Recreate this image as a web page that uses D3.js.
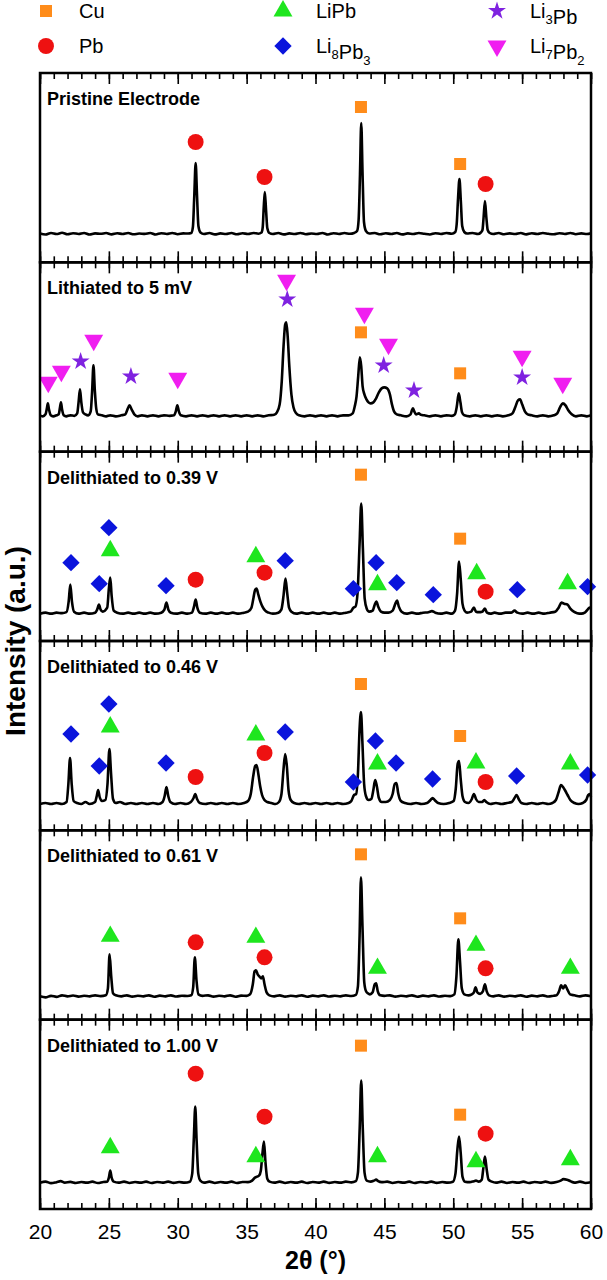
<!DOCTYPE html>
<html>
<head>
<meta charset="utf-8">
<title>XRD patterns</title>
<script src="https://cdn.jsdelivr.net/npm/d3@7"></script>
<style>
  body { margin: 0; background: #fff; }
  svg { display: block; font-family: Arial, "Liberation Sans", sans-serif; }
</style>
</head>
<body>
<svg id="chart" width="607" height="1280"></svg>
<script>
// 2theta tick values
var majorTicks = [20, 25, 30, 35, 40, 45, 50, 55, 60]
var minorTicks = d3.range(20, 61, 1)

var panelNames = ['Pristine Electrode', 'Lithiated to 5 mV', 'Delithiated to 0.39 V',
  'Delithiated to 0.46 V', 'Delithiated to 0.61 V', 'Delithiated to 1.00 V']

var phases = ['Cu', 'Pb', 'LiPb', 'Li8Pb3', 'Li3Pb', 'Li7Pb2']
var phaseColors = ['#ff8c1a', '#ee1111', '#1ee61e', '#0a14dc', '#7f22e0', '#f01ef0']

// traces: [2theta, intensity above baseline]
var pristine = [
  [20,0.5],[20.4,-0.5],[20.8,1],[21.2,0],[21.6,1.2],[22,-0.3],[22.4,0.8],[22.8,0],[23.2,1],[23.6,-0.5],[24,0.6],[24.4,0.2],[24.8,1],[25.2,-0.4],[25.6,0.7],[26,0],[26.4,1],[26.8,-0.3],[27.2,0.5],[27.6,0.1],[28,1],[28.4,-0.5],[28.8,0.8],[29.2,0],[29.6,1],[30,-0.2],[30.4,0.6],[30.75,0.5],
  [30.98,1],[31.1,7],[31.2,38],[31.3,71],[31.4,38],[31.5,8],[31.65,1.5],
  [31.9,0],[32.3,1],[32.7,-0.4],[33.1,0.6],[33.5,0],[33.9,1],[34.3,-0.3],[34.7,0.7],[35.1,0],[35.5,1],[35.85,0.3],
  [36.08,1.5],[36.17,7],[36.24,26],[36.32,42],[36.41,24],[36.5,6],[36.65,1],
  [36.9,0],[37.3,1],[37.7,-0.4],[38.1,0.6],[38.5,0],[38.9,1],[39.3,-0.2],[39.7,0.5],[40.1,0],[40.5,1],[40.9,-0.5],[41.3,0.8],[41.7,0],[42.1,1],[42.5,0.2],[42.8,1],
  [43.02,3],[43.13,14],[43.23,60],[43.32,111],[43.42,58],[43.52,12],[43.66,3],
  [43.9,0.5],[44.3,1],[44.7,-0.3],[45.1,0.7],[45.5,0],[45.9,1],[46.3,-0.4],[46.7,0.6],[47.1,0],[47.5,1],[47.9,0.2],[48.3,-0.5],[48.7,0.8],[49.1,0],[49.5,1],[49.9,0.3],
  [50.15,2],[50.25,10],[50.35,36],[50.45,55],[50.55,33],[50.65,8],[50.8,2],
  [51.0,0.5],[51.4,1],[51.8,0],[52.0,1.5],
  [52.12,4],[52.2,16],[52.3,33],[52.4,17],[52.5,4],[52.65,1],
  [52.9,0],[53.3,1],[53.7,-0.3],[54.1,0.6],[54.5,0],[54.9,1],[55.3,-0.4],[55.7,0.7],[56.1,0],[56.5,1],[56.9,0.2],[57.3,-0.3],[57.7,0.8],[58.1,0],[58.5,1],[58.9,-0.2],[59.3,0.6],[59.7,0],[60,0.8]
]

var lith5mV = [
  [20.0,1],[20.2,0],[20.4,2],[20.5,8],[20.57,13],[20.65,7],[20.78,1],[20.95,0],[21.2,1],[21.36,2],[21.44,8],[21.52,14],[21.6,7],[21.72,1],[21.9,0],[22.2,1],[22.5,0.5],
  [22.7,3],[22.8,14],[22.9,27],[23.0,14],[23.12,4],[23.3,2],[23.5,1],[23.68,5],[23.78,24],[23.88,51],[23.98,26],[24.08,8],[24.2,2],[24.5,1],[24.8,0],[25.1,1],[25.5,0],[25.9,1],
  [26.2,2],[26.35,7],[26.5,11],[26.65,7],[26.85,2],[27.1,0],[27.4,1],[27.8,0],[28.2,1],[28.6,0],[29.0,1],[29.4,0.5],[29.72,1],[29.86,5],[29.97,11],[30.08,5],[30.22,1],
  [30.6,0],[31,1],[31.4,0],[31.8,1],[32.2,0],[32.6,1],[33,0],[33.4,1],[33.8,0],[34.2,1],[34.6,0],[35,1],[35.4,0],[35.8,1],[36.2,0],[36.6,1],
  [37.0,1.5],[37.2,4],[37.4,12],[37.55,35],[37.68,70],[37.8,92],[37.88,94],[37.98,80],[38.1,50],[38.25,22],[38.4,9],[38.6,3],[38.8,1],
  [39.2,0],[39.6,1],[40,0],[40.4,1],[40.8,0],[41.2,1],[41.6,0],[42,1],[42.4,1],
  [42.7,3],[42.85,10],[42.98,20],[43.1,40],[43.22,59],[43.32,50],[43.42,30],[43.55,22],[43.7,17],[43.85,14],[44.0,13],[44.2,14],[44.4,18],[44.6,24],[44.8,28],[45.0,29],[45.2,28],[45.4,22],[45.55,12],[45.7,5],[45.9,2],
  [46.2,1],[46.6,0],[46.9,2],[47.0,6],[47.08,8],[47.17,5],[47.3,2],[47.5,3],[47.65,1.5],[47.9,1],[48.3,0],[48.7,1],[49.1,0],[49.5,1],[49.9,0.5],
  [50.12,2],[50.26,10],[50.4,23],[50.52,14],[50.64,4],[50.8,1],[51.2,0],[51.6,1],[52,0],[52.4,1],[52.8,0],[53.2,1],[53.6,0],[54,1],
  [54.3,3],[54.5,9],[54.7,16],[54.85,17],[55.0,12],[55.2,5],[55.4,2],[55.7,1],[56.1,0],[56.5,1],[56.9,0],[57.3,1],
  [57.55,3],[57.75,9],[57.95,13],[58.15,11],[58.35,6],[58.6,2],[58.9,0],[59.3,1],[59.7,0],[60,1]
]

var delith039 = [
  [20,0],[20.4,1],[20.8,0],[21.2,1],[21.6,0.5],[21.92,1.5],[22.08,12],[22.2,29],[22.32,12],[22.47,2],[22.8,0],[23.2,1],[23.6,0],[24.0,1],
  [24.15,4],[24.28,9],[24.4,4],[24.55,2],[24.88,6],[25.0,25],[25.1,36],[25.2,18],[25.35,3],[25.6,1],[26,0],[26.4,1],[26.8,0],[27.2,1],[27.6,0],[28,1],[28.4,0],[28.8,1],
  [29.03,4],[29.18,11],[29.32,4],[29.5,1],[29.9,0],[30.3,1],[30.7,0],[31.03,1],[31.18,7],[31.3,14],[31.42,6],[31.6,1],
  [32,0],[32.4,1],[32.8,0],[33.2,1],[33.6,0],[34,1],[34.4,0],[34.8,1],
  [35.1,2],[35.35,6],[35.5,16],[35.62,24],[35.72,25],[35.85,19],[36.0,12],[36.15,7],[36.35,3],[36.6,1],[36.9,0],[37.3,1],
  [37.52,4],[37.68,18],[37.82,35],[37.95,20],[38.08,6],[38.25,2],[38.6,0],[39,1],[39.4,0],[39.8,1],[40.2,0],[40.6,1],[41,0],[41.4,1],[41.8,0],[42.2,1],
  [42.55,2],[42.75,6],[42.9,7],[43.05,20],[43.2,70],[43.32,110],[43.44,65],[43.57,15],[43.72,5],[43.9,2],
  [44.15,3],[44.3,9],[44.42,12],[44.55,7],[44.75,2],[45.0,1],[45.3,1],[45.6,3],[45.8,10],[45.92,13],[46.05,7],[46.25,2],
  [46.6,0],[47,1],[47.4,0],[47.8,1],[48.2,1.5],[48.45,2.5],[48.7,1],[49.1,0],[49.5,1],[49.9,0],
  [50.13,3],[50.28,20],[50.42,52],[50.54,35],[50.67,10],[50.82,3],[51.0,1],[51.3,2],[51.5,6],[51.65,2],[51.85,1.5],[52.1,2],[52.3,5],[52.45,1],
  [52.7,0],[53,1],[53.4,0],[53.8,1],[54.2,1],[54.45,3],[54.65,1],[55,0],[55.4,1],[55.8,0],[56.2,1],[56.6,0],[57.0,1],
  [57.4,2],[57.65,6],[57.85,11],[58.05,10],[58.3,9],[58.5,5],[58.75,2],[59.0,0.5],[59.3,0],[59.55,1],[59.75,4],[59.9,6],[60,5]
]

var delith046 = [
  [20,0],[20.4,1],[20.8,0],[21.2,1],[21.6,0],[21.93,2],[22.06,20],[22.18,46],[22.3,20],[22.44,3],[22.7,1],[23.0,0],[23.3,2],[23.6,0],[24.0,2],
  [24.12,8],[24.22,14],[24.33,7],[24.5,3],[24.75,4],[24.9,20],[25.04,55],[25.16,30],[25.3,5],[25.5,1],[25.8,2],[26.2,0],[26.6,1],[27,0],[27.4,1],[27.8,0],[28.2,1],[28.6,0],
  [28.9,2],[29.05,8],[29.18,17],[29.31,8],[29.46,2],[29.8,0],[30.2,1],[30.6,0],[30.95,2],[31.15,6],[31.27,10],[31.4,5],[31.6,1],
  [32,0],[32.4,1],[32.8,0],[33.2,1],[33.6,0],[34,1],[34.4,0],[34.8,1],
  [35.1,3],[35.3,10],[35.48,28],[35.62,38],[35.72,39],[35.85,30],[35.98,18],[36.12,9],[36.3,4],[36.5,2],[36.8,1],[37.1,0],
  [37.35,2],[37.53,10],[37.68,35],[37.8,50],[37.92,38],[38.04,14],[38.2,4],[38.45,1],[38.8,0],[39.2,1],[39.6,0],[40,1],[40.4,0],[40.8,1],[41.2,0],[41.6,1],[42,0],[42.4,1],
  [42.6,3],[42.8,9],[42.95,10],[43.08,30],[43.2,75],[43.3,92],[43.41,60],[43.53,20],[43.66,8],[43.85,4],
  [44.05,5],[44.2,14],[44.33,24],[44.45,18],[44.6,6],[44.8,2],[45.1,2],[45.4,4],[45.6,10],[45.75,20],[45.88,21],[46.0,11],[46.2,3],
  [46.5,1],[46.9,0],[47.3,1],[47.7,0],[48.1,1],[48.35,4],[48.5,6],[48.65,4],[48.9,1],[49.3,0],[49.7,1],
  [50.03,3],[50.18,15],[50.32,40],[50.42,43],[50.54,25],[50.67,8],[50.85,2],[51.1,1],[51.35,5],[51.5,10],[51.65,5],[51.85,2],[52.1,2],[52.25,4],[52.4,2],
  [52.7,0],[53.1,1],[53.5,0],[53.9,1],[54.25,2],[54.45,6],[54.6,9],[54.75,5],[54.95,1],[55.3,0],[55.7,1],[56.1,0],[56.5,1],[56.9,0],[57.2,1],
  [57.45,4],[57.65,12],[57.82,19],[57.97,17],[58.1,14],[58.3,9],[58.5,4],[58.8,1],[59.1,0],[59.4,1],[59.65,4],[59.8,9],[59.9,10],[60,7]
]

var delith061 = [
  [20,0],[20.4,-1],[20.8,0.5],[21.2,-0.5],[21.6,1],[22,0],[22.4,0.8],[22.8,-0.3],[23.2,0.6],[23.6,0],[24,1],[24.4,0.2],[24.78,1],
  [24.93,8],[25.05,42],[25.17,20],[25.3,3],
  [25.5,1],[25.9,0],[26.3,1],[26.7,-0.3],[27.1,0.6],[27.5,0],[27.9,1],[28.3,-0.4],[28.7,0.7],[29.1,0],[29.5,1],[29.9,-0.2],[30.3,0.6],[30.7,0.3],[30.98,1],
  [31.12,9],[31.24,39],[31.36,16],[31.5,2],
  [31.8,0.5],[32.2,1],[32.6,-0.3],[33,0.6],[33.4,0],[33.8,1],[34.2,-0.4],[34.6,0.7],[35.0,0.5],[35.25,2],
  [35.45,12],[35.58,25],[35.68,26],[35.8,22],[35.92,20],[36.05,18],[36.18,20],[36.3,12],[36.45,4],[36.65,1],
  [37.0,0],[37.4,1],[37.8,-0.3],[38.2,0.6],[38.6,0],[39,1],[39.4,-0.4],[39.8,0.7],[40.2,0],[40.6,1],[41,-0.2],[41.4,0.6],[41.8,0],[42.2,1],[42.6,0.3],[42.93,1.5],
  [43.08,10],[43.2,60],[43.3,119],[43.41,70],[43.54,14],[43.67,5],
  [43.8,3],[43.95,2],[44.15,4],[44.3,12],[44.4,13],[44.52,5],[44.7,1],
  [45.0,0.5],[45.4,1],[45.8,-0.3],[46.2,0.6],[46.6,0],[47,1],[47.4,-0.4],[47.8,0.7],[48.2,0],[48.6,1],[49,-0.2],[49.4,0.6],[49.8,0.2],[50.08,2],
  [50.23,20],[50.37,57],[50.49,35],[50.62,8],[50.8,2],
  [51.1,1],[51.35,2],[51.5,4],[51.62,9],[51.75,4],[51.95,2.5],[52.15,5],[52.3,12],[52.43,5],[52.6,1],
  [52.9,0],[53.3,1],[53.7,-0.3],[54.1,0.6],[54.5,0],[54.9,1],[55.3,-0.4],[55.7,0.7],[56.1,0],[56.5,1],[56.9,-0.2],[57.3,0.6],[57.5,1],
  [57.68,5],[57.83,11],[57.97,8],[58.12,11],[58.28,7],[58.48,2],
  [58.8,1],[59.2,0],[59.6,1],[60,0]
]

var delith100 = [
  [20,0],[20.4,1],[20.8,-0.5],[21.2,0.5],[21.5,1.5],[21.8,0],[22.2,0.8],[22.6,-0.3],[23,0.6],[23.4,0],[23.8,1],[24.2,-0.4],[24.6,0.7],[24.88,1],
  [25.0,5],[25.1,12],[25.2,5],[25.35,1],
  [25.7,0],[26.1,1],[26.5,-0.3],[26.9,0.6],[27.3,0],[27.7,1],[28.1,-0.4],[28.5,0.7],[28.9,0],[29.3,1],[29.7,-0.2],[30.1,0.6],[30.5,0],[30.88,1],
  [31.05,9],[31.17,45],[31.27,76],[31.37,42],[31.49,9],[31.64,2],
  [31.9,0],[32.3,1],[32.7,-0.3],[33.1,0.6],[33.5,0],[33.9,1],[34.3,-0.4],[34.7,0.7],[35.1,0.5],[35.4,2],[35.6,5],[35.75,6],[35.9,7],[36.03,12],
  [36.14,28],[36.26,41],[36.37,20],[36.5,4],[36.67,1],
  [37,0],[37.4,1],[37.8,-0.3],[38.2,0.6],[38.6,0],[39,1],[39.4,-0.4],[39.8,0.7],[40.2,0],[40.6,1],[41,-0.2],[41.4,0.6],[41.8,0],[42.2,1],[42.6,0.3],[42.93,1.5],
  [43.08,10],[43.21,55],[43.32,102],[43.43,55],[43.56,10],[43.72,2],
  [44.0,1],[44.25,2],[44.4,3],[44.55,1.5],[44.8,0.5],[45.2,1],[45.6,-0.3],[46,0.6],[46.4,0],[46.8,1],[47.2,-0.4],[47.6,0.7],[48,0],[48.4,1],[48.8,-0.2],[49.2,0.6],[49.6,0],[49.98,1],
  [50.16,9],[50.3,33],[50.42,46],[50.54,30],[50.67,6],[50.85,1],
  [51.2,0.5],[51.5,1.5],[51.65,2],[51.85,1],[52.07,3],
  [52.18,14],[52.3,26],[52.42,14],[52.56,3],[52.8,1],
  [53.1,0],[53.5,1],[53.9,-0.3],[54.3,0.6],[54.7,0],[55.1,1],[55.5,-0.4],[55.9,0.7],[56.3,0],[56.7,1],[57.1,-0.2],[57.5,0.6],[57.8,2],[58.0,3.5],[58.25,3],[58.5,1.5],[58.8,0],[59.2,1],[59.6,-0.3],[60,0.5]
]

// phase markers: [phase, 2theta, height]
var pristineMarks = [['Pb',31.3,92],['Pb',36.3,57],['Cu',43.3,127],['Cu',50.5,70],['Pb',52.35,50]]
var lith5mVMarks = [
  ['Li7Pb2',20.6,34],['Li7Pb2',21.55,45],['Li3Pb',22.95,55],['Li7Pb2',23.9,76],['Li3Pb',26.6,40],['Li7Pb2',30.0,38],
  ['Li7Pb2',37.9,136],['Li3Pb',37.95,117],['Li7Pb2',43.55,103],['Cu',43.3,84],['Li7Pb2',45.3,72],['Li3Pb',44.95,51],
  ['Li3Pb',47.15,26],['Cu',50.5,43],['Li7Pb2',55.0,60],['Li3Pb',55.0,39],['Li7Pb2',57.95,33]
]
var delith039Marks = [
  ['Li8Pb3',22.25,51],['Li8Pb3',24.3,30],['Li8Pb3',25.0,86],['LiPb',25.1,63],['Li8Pb3',29.15,28],['Pb',31.3,34],
  ['LiPb',35.67,57],['Pb',36.3,41],['Li8Pb3',37.8,53],['Cu',43.3,139],['Li8Pb3',42.75,25],['Li8Pb3',44.4,51],
  ['LiPb',44.5,29],['Li8Pb3',45.9,31],['Li8Pb3',48.55,19],['Cu',50.5,75],['LiPb',51.7,40],['Pb',52.35,22],
  ['Li8Pb3',54.65,24],['LiPb',58.3,30],['Li8Pb3',59.75,27]
]
var delith046Marks = [
  ['Li8Pb3',22.25,70],['Li8Pb3',24.3,38],['Li8Pb3',25.0,100],['LiPb',25.1,77],['Li8Pb3',29.15,41],['Pb',31.3,27],
  ['LiPb',35.67,69],['Pb',36.3,51],['Li8Pb3',37.8,72],['Cu',43.3,120],['Li8Pb3',42.75,22],['Li8Pb3',44.35,63],
  ['LiPb',44.5,40],['Li8Pb3',45.85,41],['Li8Pb3',48.5,25],['Cu',50.5,68],['LiPb',51.65,41],['Pb',52.35,22],
  ['Li8Pb3',54.6,28],['LiPb',58.5,40],['Li8Pb3',59.75,29]
]
var delith061Marks = [
  ['LiPb',25.1,60],['Pb',31.3,54],['LiPb',35.67,59],['Pb',36.3,39],['Cu',43.3,142],['LiPb',44.5,28],
  ['Cu',50.5,78],['LiPb',51.65,51],['Pb',52.35,28],['LiPb',58.5,28]
]
var delith100Marks = [
  ['LiPb',25.1,35],['Pb',31.3,109],['LiPb',35.67,26],['Pb',36.3,66],['Cu',43.3,137],['LiPb',44.5,26],
  ['Cu',50.5,68],['Pb',52.35,49],['LiPb',51.65,21],['LiPb',58.5,23]
]

var traces = [pristine, lith5mV, delith039, delith046, delith061, delith100]
var marks = [pristineMarks, lith5mVMarks, delith039Marks, delith046Marks, delith061Marks, delith100Marks]

// layout
var left = 40, right = 591, top0 = 73, bottom0 = 1209
var panelH = (bottom0 - top0) / 6
var baseOffsets = [161, 154, 162, 163, 166, 163]

var svg = d3.select('#chart')
var x = d3.scaleLinear().domain([20, 60]).range([left, right])
var color = d3.scaleOrdinal().domain(phases).range(phaseColors)

function symbolFor(phase) {
  if (phase == 'Cu') return { type: d3.symbolSquare, size: 144, rot: 0 }
  if (phase == 'Pb') return { type: d3.symbolCircle, size: 200, rot: 0 }
  if (phase == 'LiPb') return { type: d3.symbolTriangle, size: 155, rot: 0 }
  if (phase == 'Li8Pb3') return { type: d3.symbolSquare, size: 150, rot: 45 }
  if (phase == 'Li3Pb') return { type: d3.symbolStar, size: 100, rot: 0 }
  return { type: d3.symbolTriangle, size: 155, rot: 180 }
}

function drawSymbol(g, phase, cx, cy) {
  var s = symbolFor(phase)
  g.append('path')
    .attr('d', d3.symbol().type(s.type).size(s.size)())
    .attr('transform', 'translate(' + cx + ',' + cy + ') rotate(' + s.rot + ')')
    .attr('fill', color(phase))
}

var line = d3.line().curve(d3.curveMonotoneX)

traces.forEach(function(data, i) {
  var top = top0 + i * panelH
  var bottom = top + panelH
  var base = top + baseOffsets[i]
  var y = d3.scaleLinear().domain([0, 100]).range([base, base - 100])
  var g = svg.append('g')

  line.x(function(d) { return x(d[0]) }).y(function(d) { return y(d[1]) })

  g.append('path')
    .datum(data)
    .attr('d', line)
    .attr('fill', 'none')
    .attr('stroke', '#000')
    .attr('stroke-width', 2.6)
    .attr('stroke-linejoin', 'round')

  marks[i].forEach(function(m) {
    drawSymbol(g, m[0], x(m[1]), y(m[2]))
  })

  g.append('text')
    .attr('x', 47)
    .attr('y', top + 32)
    .attr('font-size', 18)
    .attr('font-weight', 'bold')
    .text(panelNames[i])

  // inward ticks on top and bottom edges
  var axes = [
    [d3.axisTop(x).tickValues(minorTicks).tickSize(-6), top],
    [d3.axisTop(x).tickValues(majorTicks).tickSize(-11), top],
    [d3.axisBottom(x).tickValues(minorTicks).tickSize(-6), bottom],
    [d3.axisBottom(x).tickValues(majorTicks).tickSize(-11), bottom]
  ]
  axes.forEach(function(a) {
    g.append('g')
      .attr('transform', 'translate(0,' + a[1] + ')')
      .call(a[0].tickFormat(''))
      .call(function(s) { s.select('.domain').remove() })
      .selectAll('line').attr('stroke-width', 1.6)
  })

  g.append('rect')
    .attr('x', left).attr('y', top)
    .attr('width', right - left).attr('height', panelH)
    .attr('fill', 'none').attr('stroke', '#000').attr('stroke-width', 2.5)
})

// bottom tick labels
svg.append('g')
  .attr('transform', 'translate(0,' + bottom0 + ')')
  .call(d3.axisBottom(x).tickValues(majorTicks).tickSize(0).tickPadding(15))
  .call(function(s) { s.select('.domain').remove() })
  .selectAll('text')
  .attr('font-size', 21)
  .attr('font-family', 'Arial, "Liberation Sans", sans-serif')
  .attr('fill', '#000')

svg.append('text')
  .attr('x', (left + right) / 2)
  .attr('y', 1269)
  .attr('text-anchor', 'middle')
  .attr('font-size', 25)
  .attr('font-weight', 'bold')
  .text('2θ (°)')

svg.append('text')
  .attr('transform', 'translate(25,' + (top0 + bottom0) / 2 + ') rotate(-90)')
  .attr('text-anchor', 'middle')
  .attr('font-size', 28)
  .attr('font-weight', 'bold')
  .text('Intensity (a.u.)')

// legend
var legendX = [46, 283, 497]
var legendRows = [11, 46]
phases.forEach(function(p, i) {
  var col = Math.floor(i / 2), row = i % 2
  var cx = legendX[col], cy = legendRows[row]
  drawSymbol(svg, p, cx, cy)
  var t = svg.append('text')
    .attr('x', cx + 33)
    .attr('y', cy + 7)
    .attr('font-size', 20)
  p.split(/(\d)/).filter(function(s) { return s != '' }).forEach(function(part) {
    if (/\d/.test(part)) {
      t.append('tspan').attr('font-size', 13).attr('dy', 6).text(part)
      t.append('tspan').attr('dy', -6).text('')
    } else {
      t.append('tspan').text(part)
    }
  })
})
</script>
</body>
</html>
